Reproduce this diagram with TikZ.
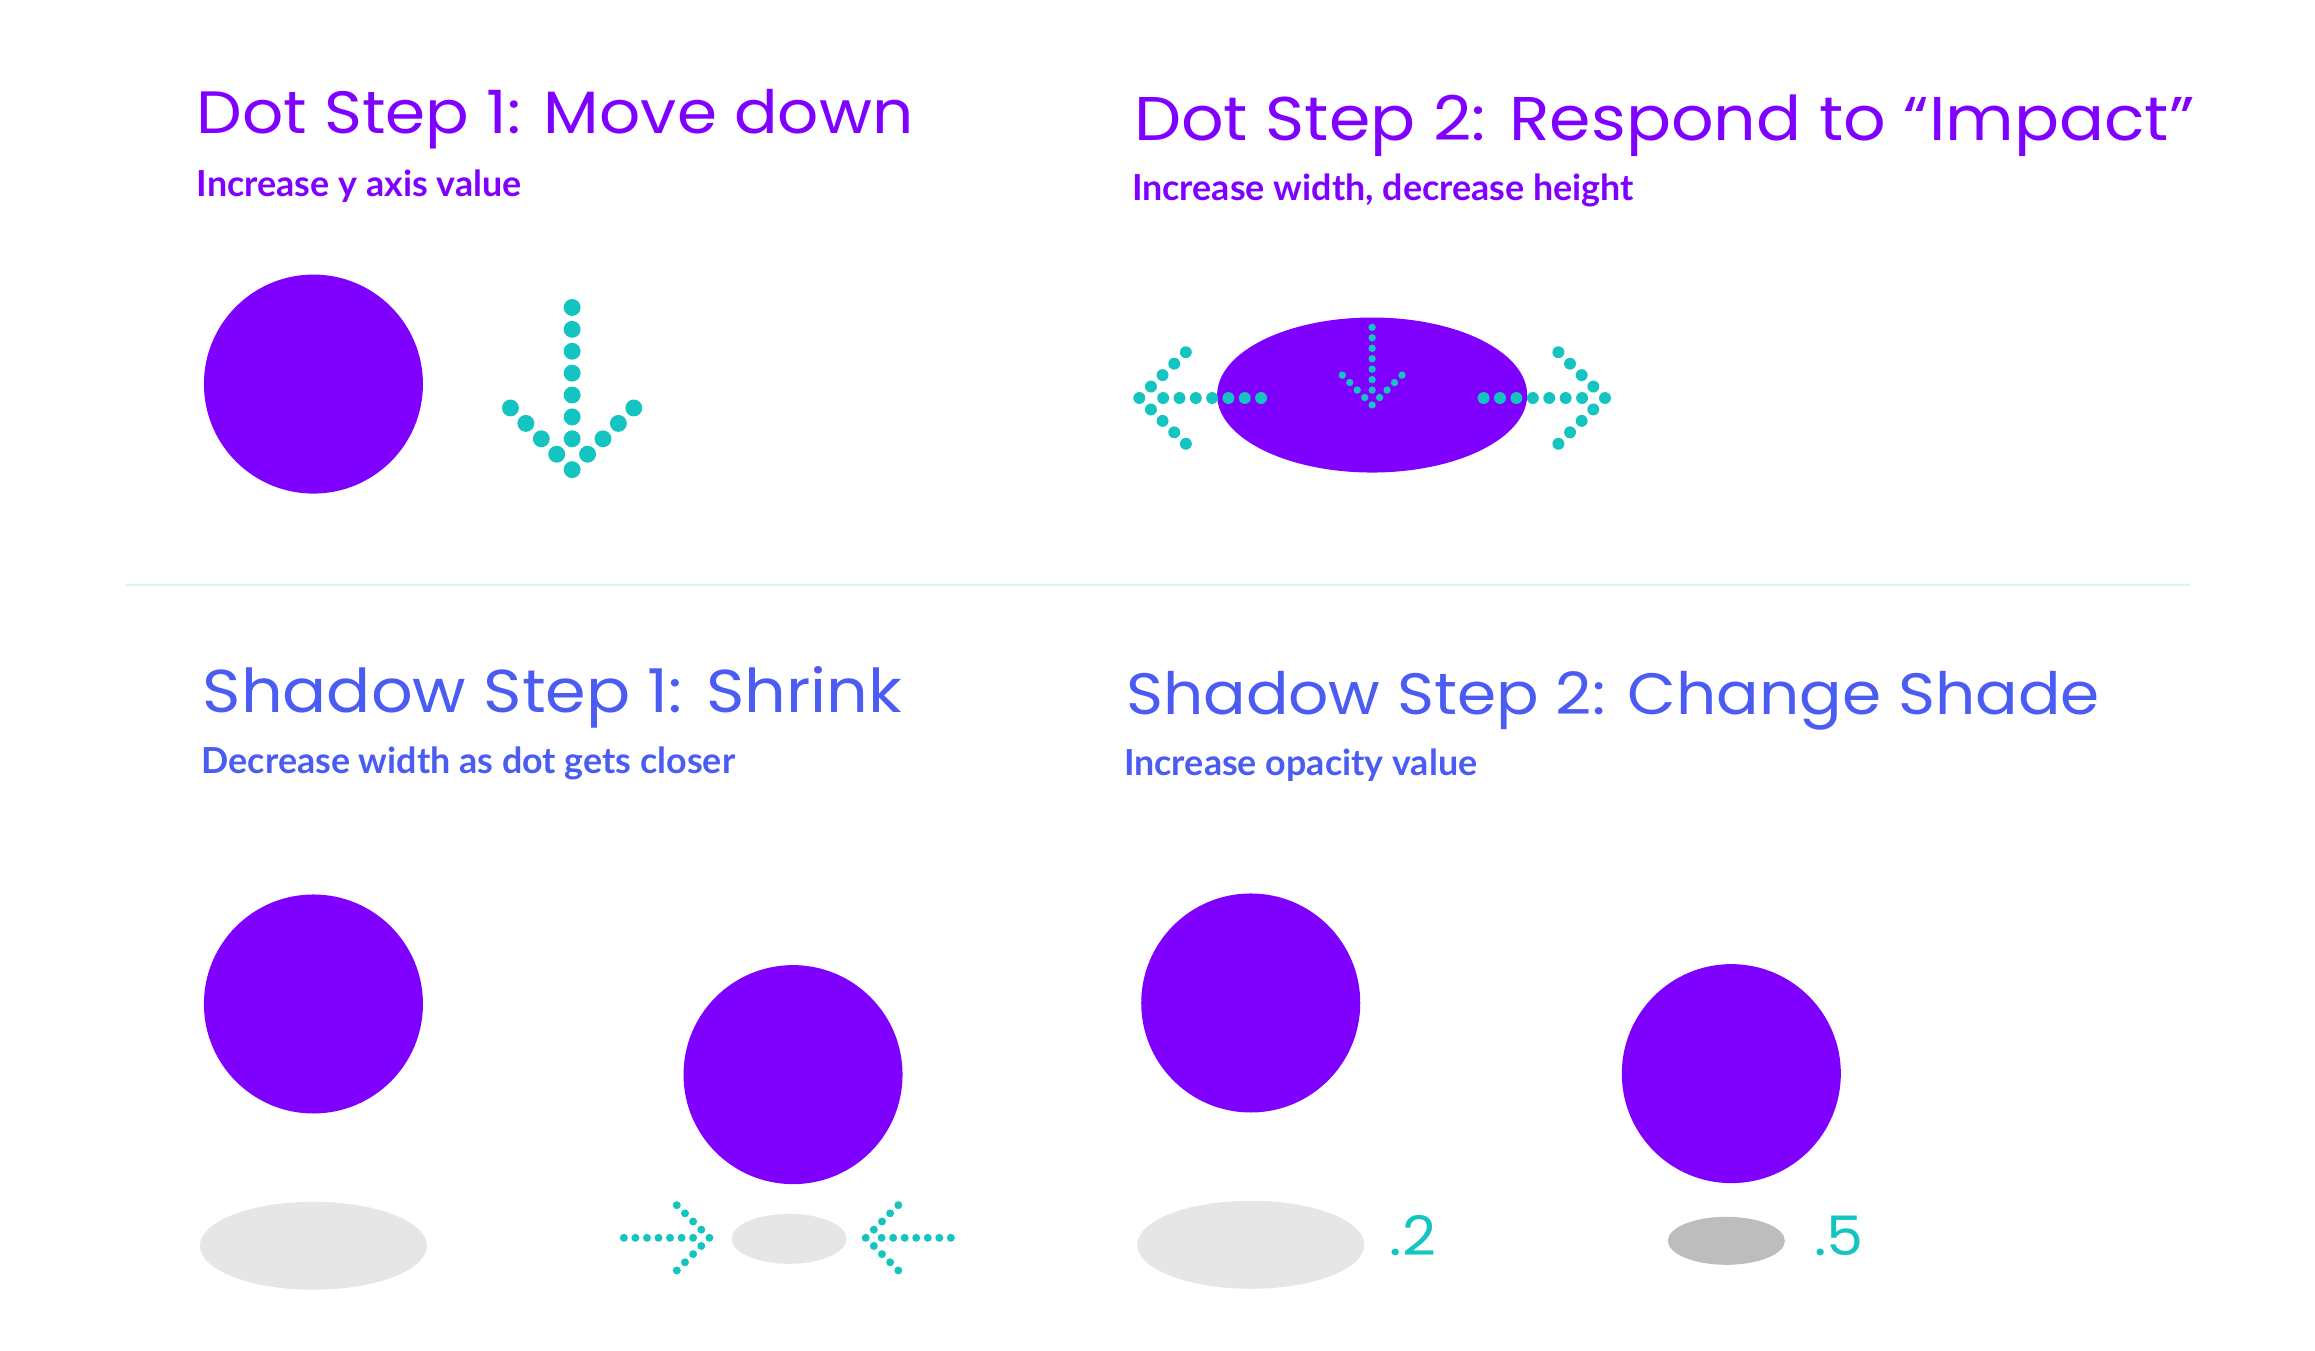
\documentclass[tikz,border=0pt]{standalone}
\usepackage{fontspec}
\setmainfont{Lato}
\newfontfamily\handfont{Poppins}[FakeStretch=1.08]
\usetikzlibrary{positioning, shapes.geometric}
\definecolor{dotpurple}{HTML}{8000FF}
\definecolor{shadowblue}{HTML}{4A5CF2}
\definecolor{dotteal}{HTML}{14C4C0}
\definecolor{shadelight}{HTML}{E6E6E6}
\definecolor{shadedark}{HTML}{BDBDBD}
\definecolor{rulecyan}{HTML}{DDF4F6}
\tikzset{
    steptitle/.style={anchor=base west, inner sep=0pt, font=\handfont\fontsize{#1}{20}\selectfont},
    steptitle/.default=17,
    stepnote/.style={anchor=base west, inner sep=0pt, font=\bfseries\fontsize{10.2}{12}\selectfont},
    ball/.style={circle, fill=dotpurple, minimum size=2.19cm, inner sep=0pt},
    shadowblob/.style={ellipse, fill=shadelight, inner sep=0pt},
    valuelabel/.style={anchor=base west, inner sep=0pt, text=dotteal, font=\handfont\fontsize{15.5}{18}\selectfont}
}
\begin{document}
\begin{tikzpicture}[x=0.00995cm, y=-0.00995cm]
    \useasboundingbox (0,0) rectangle (2326.6,1356.8);

    % headings
    \node[steptitle, text=dotpurple] (titleA) at (197,134) {Dot Step 1: Move down};
    \node[stepnote, text=dotpurple] (noteA) at (197,197) {Increase y axis value};
    \node[steptitle=17.55, text=dotpurple] (titleB) at (1139,141) {Dot Step 2: Respond to “Impact”};
    \node[stepnote, text=dotpurple] (noteB) at (1137,202) {Increase width, decrease height};
    \node[steptitle=17.2, text=shadowblue] (titleC) at (203,716) {Shadow Step 1: Shrink};
    \node[stepnote, text=shadowblue] (noteC) at (202,777) {Decrease width as dot gets closer};
    \node[steptitle=16.6, text=shadowblue] (titleD) at (1131,718) {Shadow Step 2: Change Shade};
    \node[stepnote, text=shadowblue] (noteD) at (1129,779) {Increase opacity value};

    % divider
    \coordinate (ruleL) at (126,588);
    \coordinate (ruleR) at (2201,588);
    \draw[rulecyan, line width=0.6pt] (ruleL) -- (ruleR);

    % dot step 1
    \node[ball] (dotA) at (315,386) {};
    \foreach \i in {0,...,6}
        \fill[dotteal] (575,309+22*\i) circle (8.5);
    \fill[dotteal] (575,472) circle (8.5);
    \foreach \k in {1,...,4} {
        \fill[dotteal] (575-15.5*\k,472-15.5*\k) circle (8.5);
        \fill[dotteal] (575+15.5*\k,472-15.5*\k) circle (8.5);
    }

    % dot step 2
    \node[ball, ellipse, minimum width=3.1cm, minimum height=1.55cm] (dotB) at (1379,397) {};
    \foreach \i in {0,...,6}
        \fill[dotteal] (1379,329+10.5*\i) circle (3.7);
    \fill[dotteal] (1379,407) circle (3.7);
    \foreach \k in {1,...,4} {
        \fill[dotteal] (1379-7.5*\k,407-7.5*\k) circle (3.7);
        \fill[dotteal] (1379+7.5*\k,407-7.5*\k) circle (3.7);
    }
    % squash arrows
    \foreach \i in {0,...,6} {
        \fill[dotteal] (1169+16.4*\i,400) circle (6);
        \fill[dotteal] (1491+16.5*\i,400) circle (6);
    }
    \fill[dotteal] (1145,400) circle (6);
    \fill[dotteal] (1613,400) circle (6);
    \foreach \k in {1,...,4} {
        \fill[dotteal] (1145+11.7*\k,400-11.5*\k) circle (6);
        \fill[dotteal] (1145+11.7*\k,400+11.5*\k) circle (6);
        \fill[dotteal] (1613-11.7*\k,400-11.5*\k) circle (6);
        \fill[dotteal] (1613-11.7*\k,400+11.5*\k) circle (6);
    }

    % shadow step 1
    \node[ball] (dotC) at (315,1009) {};
    \node[shadowblob, minimum width=2.27cm, minimum height=0.88cm] (shadowC) at (315,1252) {};
    \node[ball] (dotD) at (797,1080) {};
    \node[shadowblob, minimum width=1.15cm, minimum height=0.5cm] (shadowD) at (793,1245) {};
    \foreach \i in {0,...,6} {
        \fill[dotteal] (627+11.6*\i,1244) circle (4);
        \fill[dotteal] (886+11.6*\i,1244) circle (4);
    }
    \fill[dotteal] (713,1244) circle (4);
    \fill[dotteal] (870,1244) circle (4);
    \foreach \k in {1,...,4} {
        \fill[dotteal] (713-8.2*\k,1244-8.2*\k) circle (4);
        \fill[dotteal] (713-8.2*\k,1244+8.2*\k) circle (4);
        \fill[dotteal] (870+8.2*\k,1244-8.2*\k) circle (4);
        \fill[dotteal] (870+8.2*\k,1244+8.2*\k) circle (4);
    }

    % shadow step 2
    \node[ball] (dotE) at (1257,1008) {};
    \node[shadowblob, minimum width=2.27cm, minimum height=0.88cm] (shadowE) at (1257,1251) {};
    \node[valuelabel] (valueE) at (1396,1262) {.2};
    \node[ball] (dotF) at (1740,1079) {};
    \node[shadowblob, fill=shadedark, minimum width=1.17cm, minimum height=0.48cm] (shadowF) at (1735,1247) {};
    \node[valuelabel] (valueF) at (1823,1262) {.5};
\end{tikzpicture}
\end{document}
